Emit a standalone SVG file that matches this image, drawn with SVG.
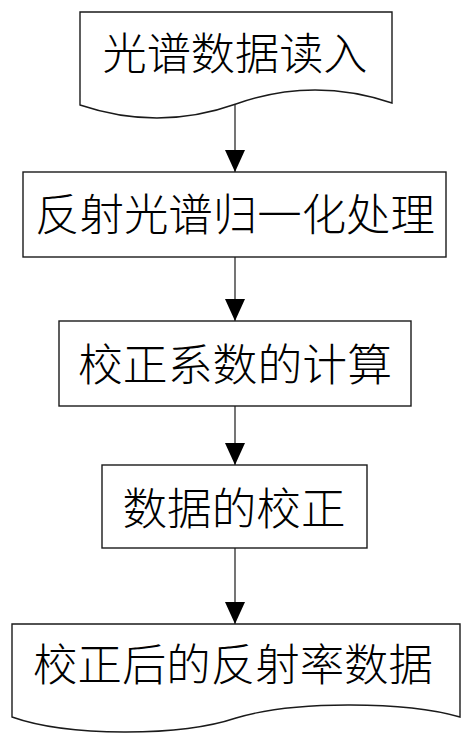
<svg xmlns="http://www.w3.org/2000/svg" width="474" height="746" viewBox="0 0 474 746">
<style>
.shape{fill:#fff;stroke:#1a1a1a;stroke-width:1.4}
.lbl{font-family:"Noto Sans CJK SC","Noto Sans CJK JP",sans-serif;font-size:44px;fill:#000;text-anchor:middle;dominant-baseline:central;font-weight:300}
.conn{stroke:#1a1a1a;stroke-width:1.2;fill:none}
</style>
<defs>
<marker id="ah" markerUnits="userSpaceOnUse" markerWidth="22" markerHeight="20" viewBox="0 0 22 20" refX="22" refY="10" orient="auto">
<path d="M0,0 L22,10 L0,20 Z" fill="#000"/>
</marker>
</defs>
<rect width="474" height="746" fill="#fff"/>
<g id="connectors">
<line class="conn" x1="235" y1="105" x2="235" y2="172" marker-end="url(#ah)"/>
<line class="conn" x1="235" y1="257" x2="235" y2="321" marker-end="url(#ah)"/>
<line class="conn" x1="235" y1="406" x2="235" y2="465" marker-end="url(#ah)"/>
<line class="conn" x1="235" y1="548" x2="235" y2="624" marker-end="url(#ah)"/>
</g>
<g id="n1">
<path class="shape" d="M80,12 H392 V103 C340,85.5 288,85.5 236,104 C184,122.5 132,122.5 80,105 Z"/>
<text class="lbl" x="235" y="51" textLength="265" lengthAdjust="spacingAndGlyphs">光谱数据读入</text>
</g>
<g id="n2">
<rect class="shape" x="23" y="172" width="423" height="85"/>
<text class="lbl" x="235" y="212" textLength="400" lengthAdjust="spacingAndGlyphs">反射光谱归一化处理</text>
</g>
<g id="n3">
<rect class="shape" x="59" y="321" width="352" height="85"/>
<text class="lbl" x="235" y="362" textLength="314" lengthAdjust="spacingAndGlyphs">校正系数的计算</text>
</g>
<g id="n4">
<rect class="shape" x="102" y="465" width="265" height="83"/>
<text class="lbl" x="234" y="506" textLength="223" lengthAdjust="spacingAndGlyphs">数据的校正</text>
</g>
<g id="n5">
<path class="shape" d="M12,624 H460 V717 C404,700.8 292,700.8 236,718 C180,736.8 68,736.8 12,717 Z"/>
<text class="lbl" x="233" y="662" textLength="400" lengthAdjust="spacingAndGlyphs">校正后的反射率数据</text>
</g>
</svg>
